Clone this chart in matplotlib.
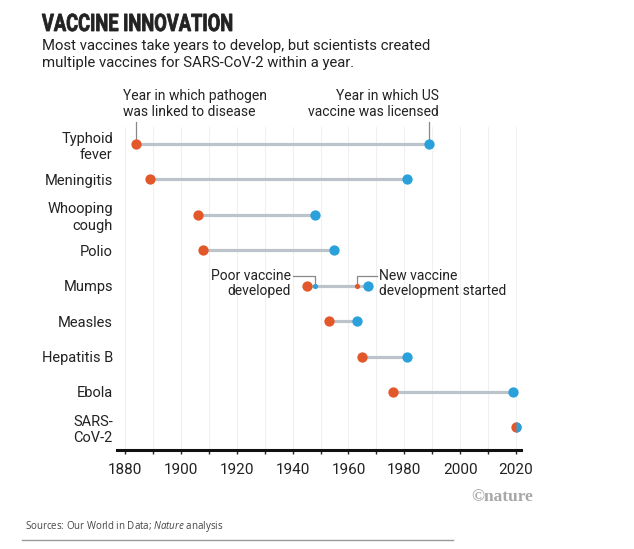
import matplotlib.pyplot as plt
from matplotlib.textpath import TextPath
from matplotlib.patches import PathPatch
from matplotlib.font_manager import FontProperties
from matplotlib.transforms import Affine2D
from matplotlib.markers import MarkerStyle

diseases = ['Typhoid\nfever', 'Meningitis', 'Whooping\ncough', 'Polio', 'Mumps',
            'Measles', 'Hepatitis B', 'Ebola', 'SARS-\nCoV-2']
linked_year = [1884, 1889, 1906, 1908, 1945, 1953, 1965, 1976, 2020]
licensed_year = [1989, 1981, 1948, 1955, 1967, 1963, 1981, 2019, 2020]

# mumps extra events
mumps_poor_vaccine = 1948
mumps_new_dev = 1963

years = [1880, 1900, 1920, 1940, 1960, 1980, 2000, 2020]

ORANGE = '#e2582b'
BLUE = '#2ba1db'
GREY = '#bcc3cb'
TXT = '#222222'

plt.rcParams['font.family'] = ['Roboto', 'DejaVu Sans']
plt.rcParams['mathtext.fontset'] = 'custom'
plt.rcParams['mathtext.it'] = 'Open Sans:italic'
plt.rcParams['mathtext.rm'] = 'Open Sans'

fig = plt.figure(figsize=(6.34, 5.49), dpi=100)
ax = fig.add_axes([117 / 634, 1 - 450 / 549, 404 / 634, 323 / 549])

rows = list(range(len(diseases)))
for i in rows:
    ax.plot([linked_year[i], licensed_year[i]], [i, i], color=GREY, lw=2.3,
            solid_capstyle='butt', zorder=2)

ax.scatter(licensed_year[:-1], rows[:-1], s=55, color=BLUE, zorder=4, linewidths=0)
ax.scatter(linked_year, rows, s=55, color=ORANGE, zorder=5, linewidths=0)
# SARS-CoV-2: right half blue over the orange dot
ax.scatter([licensed_year[-1]], [rows[-1]], s=55, color=BLUE, zorder=6, linewidths=0,
           marker=MarkerStyle('o', fillstyle='right'))

m = diseases.index('Mumps')
ax.scatter([mumps_poor_vaccine], [m], s=14, color=BLUE, zorder=6, linewidths=0)
ax.scatter([mumps_new_dev], [m], s=14, color=ORANGE, zorder=6, linewidths=0)

ax.set_xlim(1877.1, 2021.8)
ax.set_ylim(8.64, -0.48)

for x in range(1880, 2021, 10):
    ax.axvline(x, color='#eef0f2', lw=0.8, zorder=0)

ax.set_xticks(years)
ax.set_xticks(range(1880, 2021, 10), minor=True)
ax.tick_params(axis='x', which='both', length=3, width=1, color='#222222',
               labelsize=11, labelcolor=TXT, pad=6)
ax.set_yticks(rows)
ax.set_yticklabels(diseases, fontsize=10.5, color=TXT, ha='right', linespacing=1.2)
ax.tick_params(axis='y', length=0, pad=3)

for s in ['top', 'right', 'left']:
    ax.spines[s].set_visible(False)
ax.spines['bottom'].set_linewidth(2.2)
ax.spines['bottom'].set_color('#111111')

# header annotations
ax.plot([linked_year[0], linked_year[0]], [-0.15, -0.62], color='#888888', lw=0.9,
        clip_on=False, zorder=1)
ax.text(1879.3, -0.72, 'Year in which pathogen\nwas linked to disease', ha='left', va='bottom',
        fontsize=10, color=TXT, linespacing=1.1)
ax.plot([licensed_year[0], licensed_year[0]], [-0.15, -0.62], color='#888888', lw=0.9,
        clip_on=False, zorder=1)
ax.text(1992.3, -0.72, 'Year in which US\nvaccine was licensed', ha='right', va='bottom',
        fontsize=10, color=TXT, linespacing=1.1)

# mumps annotations
ax.plot([1940.2, mumps_poor_vaccine, mumps_poor_vaccine], [m - 0.28, m - 0.28, m - 0.05],
        color='#888888', lw=0.9, zorder=3)
ax.text(1939.3, m - 0.07, 'Poor vaccine\ndeveloped', ha='right', va='center',
        fontsize=10, color=TXT, linespacing=1.1)
ax.plot([mumps_new_dev, mumps_new_dev, 1970.3], [m - 0.05, m - 0.28, m - 0.28],
        color='#888888', lw=0.9, zorder=3)
ax.text(1971.0, m - 0.07, 'New vaccine\ndevelopment started', ha='left', va='center',
        fontsize=10, color=TXT, linespacing=1.1)

# condensed bold title drawn as a squeezed text path (pixel coordinates)
tp = TextPath((0, 0), 'VACCINE INNOVATION', size=24,
              prop=FontProperties(family='Roboto', weight='bold'))
ext = tp.get_extents()
sx = 190 / ext.width
title_tr = Affine2D().translate(-ext.x0, 0).scale(sx, 1).translate(42, 549 - 31)
fig.add_artist(PathPatch(tp, transform=title_tr, facecolor='#222222', edgecolor='#222222',
                         lw=0.6))

fig.text(42 / 634, 1 - 54.5 / 549, 'Most vaccines take years to develop, but scientists created\n'
         'multiple vaccines for SARS-CoV-2 within a year.', fontsize=10.7, color=TXT,
         va='center', linespacing=1.3)

fig.text(533 / 634, 1 - 497 / 549, '©nature', fontsize=12.5, fontweight='bold',
         family=['Liberation Serif'], color='#a8a8a8', ha='right', va='center')

fig.text(25 / 634, 1 - 527 / 549, 'Sources: Our World in Data; $\\mathit{Nature}$ analysis',
         fontsize=7, color='#444444', va='center', family=['Open Sans'])
fig.add_artist(plt.Line2D([22 / 634, 453 / 634], [1 - 540 / 549, 1 - 540 / 549],
                          color='#999999', lw=1))

fig.savefig('out.png', dpi=100)
